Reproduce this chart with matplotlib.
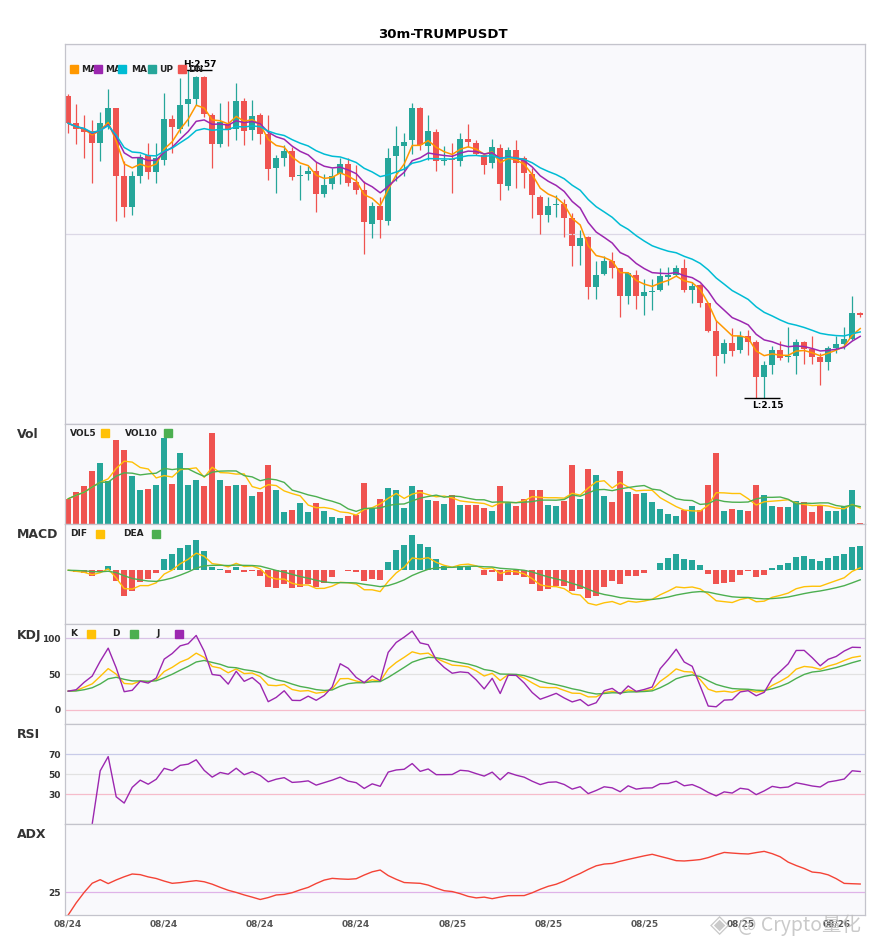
import numpy as np
import pandas as pd
import matplotlib
matplotlib.use("Agg")
import matplotlib.pyplot as plt
from matplotlib.ticker import LinearLocator
from matplotlib.transforms import ScaledTranslation

# 30m candles
symbol = "30m-TRUMPUSDT"
start_time = "2025-08-24 00:00"

open_ = [2.537, 2.502, 2.494, 2.492, 2.477, 2.500, 2.521, 2.435, 2.395, 2.434,
         2.461, 2.440, 2.455, 2.507, 2.495, 2.527, 2.533, 2.561, 2.513, 2.476,
         2.501, 2.494, 2.530, 2.493, 2.512, 2.488, 2.444, 2.458, 2.467, 2.434,
         2.437, 2.441, 2.411, 2.424, 2.437, 2.450, 2.427, 2.417, 2.373, 2.396,
         2.377, 2.460, 2.473, 2.480, 2.521, 2.473, 2.491, 2.453, 2.456, 2.453,
         2.482, 2.477, 2.461, 2.451, 2.470, 2.422, 2.468, 2.457, 2.437, 2.408,
         2.384, 2.397, 2.399, 2.381, 2.344, 2.356, 2.292, 2.309, 2.326, 2.316,
         2.281, 2.307, 2.281, 2.286, 2.288, 2.305, 2.307, 2.316, 2.288, 2.295,
         2.271, 2.235, 2.206, 2.220, 2.211, 2.229, 2.221, 2.177, 2.192, 2.211,
         2.202, 2.204, 2.221, 2.212, 2.202, 2.196, 2.214, 2.219, 2.225, 2.259]
high = [2.539, 2.527, 2.512, 2.506, 2.517, 2.546, 2.522, 2.453, 2.441, 2.463,
        2.477, 2.477, 2.541, 2.512, 2.560, 2.570, 2.563, 2.563, 2.515, 2.528,
        2.530, 2.553, 2.535, 2.532, 2.515, 2.512, 2.461, 2.474, 2.472, 2.448,
        2.447, 2.452, 2.437, 2.444, 2.457, 2.458, 2.448, 2.428, 2.401, 2.407,
        2.470, 2.498, 2.489, 2.528, 2.523, 2.512, 2.495, 2.473, 2.477, 2.490,
        2.501, 2.480, 2.463, 2.482, 2.476, 2.472, 2.481, 2.460, 2.444, 2.410,
        2.407, 2.410, 2.405, 2.387, 2.365, 2.358, 2.325, 2.332, 2.337, 2.317,
        2.311, 2.314, 2.302, 2.302, 2.317, 2.318, 2.320, 2.328, 2.298, 2.296,
        2.272, 2.250, 2.225, 2.240, 2.236, 2.237, 2.224, 2.197, 2.216, 2.223,
        2.241, 2.225, 2.223, 2.229, 2.208, 2.216, 2.229, 2.241, 2.280, 2.260]
low = [2.489, 2.476, 2.458, 2.425, 2.453, 2.495, 2.377, 2.382, 2.385, 2.425,
       2.430, 2.425, 2.449, 2.464, 2.489, 2.498, 2.525, 2.510, 2.445, 2.472,
       2.473, 2.481, 2.474, 2.480, 2.476, 2.429, 2.413, 2.447, 2.429, 2.404,
       2.429, 2.388, 2.407, 2.418, 2.424, 2.422, 2.411, 2.334, 2.355, 2.355,
       2.372, 2.428, 2.435, 2.462, 2.468, 2.455, 2.441, 2.449, 2.413, 2.447,
       2.472, 2.461, 2.437, 2.444, 2.404, 2.416, 2.419, 2.419, 2.381, 2.360,
       2.375, 2.382, 2.356, 2.319, 2.320, 2.277, 2.277, 2.307, 2.304, 2.254,
       2.270, 2.264, 2.256, 2.263, 2.287, 2.294, 2.306, 2.286, 2.271, 2.266,
       2.234, 2.178, 2.194, 2.204, 2.208, 2.205, 2.150, 2.150, 2.181, 2.198,
       2.196, 2.181, 2.193, 2.193, 2.167, 2.186, 2.208, 2.212, 2.224, 2.253]
close = [2.502, 2.494, 2.491, 2.477, 2.502, 2.521, 2.435, 2.395, 2.435, 2.459,
         2.439, 2.457, 2.507, 2.497, 2.526, 2.533, 2.561, 2.514, 2.476, 2.503,
         2.493, 2.530, 2.492, 2.511, 2.488, 2.443, 2.458, 2.467, 2.433, 2.436,
         2.441, 2.411, 2.423, 2.435, 2.450, 2.426, 2.416, 2.375, 2.396, 2.378,
         2.458, 2.473, 2.478, 2.521, 2.474, 2.492, 2.454, 2.454, 2.455, 2.482,
         2.478, 2.463, 2.449, 2.471, 2.424, 2.468, 2.451, 2.438, 2.410, 2.384,
         2.396, 2.398, 2.380, 2.344, 2.355, 2.292, 2.307, 2.325, 2.316, 2.281,
         2.310, 2.281, 2.286, 2.287, 2.306, 2.307, 2.317, 2.288, 2.293, 2.271,
         2.236, 2.204, 2.220, 2.210, 2.229, 2.221, 2.177, 2.192, 2.211, 2.201,
         2.204, 2.221, 2.212, 2.202, 2.196, 2.214, 2.219, 2.225, 2.259, 2.256]
# volume in thousands
volume = [75, 96, 112, 156, 180, 127, 250, 220, 142, 100,
          105, 117, 255, 120, 210, 117, 132, 114, 270, 130,
          112, 115, 117, 82, 96, 174, 102, 37, 42, 63,
          37, 63, 40, 22, 18, 25, 28, 123, 48, 75,
          108, 100, 49, 112, 102, 72, 69, 60, 85, 57,
          57, 57, 48, 39, 114, 62, 54, 75, 102, 102,
          57, 54, 69, 174, 75, 162, 147, 84, 66, 156,
          96, 90, 93, 66, 45, 30, 24, 42, 54, 42,
          117, 210, 39, 45, 42, 39, 117, 87, 54, 51,
          51, 69, 66, 36, 57, 39, 39, 54, 102, 3]

ma_spans = [5, 10, 20]
ma_labels = ["MA", "MA", "MA"]
macd_fast, macd_slow, macd_signal = 5, 20, 9

UP, DN = "#26a69a", "#ef5350"
MA_COLORS = ["#ff9800", "#9c27b0", "#00bcd4"]
YEL, GRN, PUR, RED = "#ffc107", "#4caf50", "#9c27b0", "#f44336"
FACE, SPINE = "#f9f9fc", "#c4c4cc"

df = pd.DataFrame({"open": open_, "high": high, "low": low,
                   "close": close, "vol": volume},
                  index=pd.date_range(start_time, periods=len(close), freq="30min"))
x = np.arange(len(df))
o, h, l, c = df["open"].values, df["high"].values, df["low"].values, df["close"].values
colors = np.where(c >= o, UP, DN)

# indicators
mas = [df["close"].ewm(span=s).mean() for s in ma_spans]
vol5 = df["vol"].rolling(5, min_periods=1).mean()
vol10 = df["vol"].rolling(10, min_periods=1).mean()

dif = (df["close"].ewm(span=macd_fast, adjust=False).mean()
       - df["close"].ewm(span=macd_slow, adjust=False).mean())
dea = dif.ewm(span=macd_signal, adjust=False).mean()
hist = 2 * (dif - dea)

low9 = df["low"].rolling(9, min_periods=1).min()
high9 = df["high"].rolling(9, min_periods=1).max()
rsv = (df["close"] - low9) / (high9 - low9) * 100
k = rsv.ewm(com=2, adjust=False).mean()
d = k.ewm(com=2, adjust=False).mean()
j = 3 * k - 2 * d

chg = df["close"].diff()
gain = chg.clip(lower=0).ewm(com=13, min_periods=3).mean()
loss = (-chg.clip(upper=0)).ewm(com=13, min_periods=3).mean()
rsi = 100 * gain / (gain + loss)

up_move = df["high"].diff()
down_move = -df["low"].diff()
plus_dm = pd.Series(np.where((up_move > down_move) & (up_move > 0), up_move, 0.0), index=df.index)
minus_dm = pd.Series(np.where((down_move > up_move) & (down_move > 0), down_move, 0.0), index=df.index)
prev_c = df["close"].shift()
tr = pd.concat([df["high"] - df["low"], (df["high"] - prev_c).abs(),
                (df["low"] - prev_c).abs()], axis=1).max(axis=1)
atr = tr.ewm(span=14, adjust=False).mean()
pdi = 100 * plus_dm.ewm(span=14, adjust=False).mean() / atr
mdi = 100 * minus_dm.ewm(span=14, adjust=False).mean() / atr
dx = (100 * (pdi - mdi).abs() / (pdi + mdi)).fillna(0)
adx = dx.ewm(span=14, adjust=False).mean()

# layout in pixels of an 885x950 canvas
fig = plt.figure(figsize=(8.85, 9.5), dpi=100)


def box(top, bottom):
    return [65 / 885, 1 - bottom / 950, 800 / 885, (bottom - top) / 950]


ax_p = fig.add_axes(box(44, 424))
ax_v = fig.add_axes(box(424, 524), sharex=ax_p)
ax_m = fig.add_axes(box(524, 624), sharex=ax_p)
ax_k = fig.add_axes(box(624, 724), sharex=ax_p)
ax_r = fig.add_axes(box(724, 824), sharex=ax_p)
ax_a = fig.add_axes(box(824, 915), sharex=ax_p)
axes = [ax_p, ax_v, ax_m, ax_k, ax_r, ax_a]

for ax in axes:
    ax.set_facecolor(FACE)
    for s in ax.spines.values():
        s.set_color(SPINE)
        s.set_linewidth(0.9)
    ax.tick_params(length=0, pad=3, labelbottom=False, labelleft=False)


def offset(ax, dx, dy):
    return ax.transAxes + ScaledTranslation(dx / 100, -dy / 100, fig.dpi_scale_trans)


def legend_row(ax, items, dy):
    # items: (label, color, text_dx, box_dx)
    for lab, col, tdx, bdx in items:
        ax.text(0, 1, lab, transform=offset(ax, tdx, dy), ha="left", va="center",
                fontsize=6.5, fontweight="bold", color="#222222", zorder=5)
        ax.plot([0], [1], marker="s", ms=5.8, color=col, linestyle="none",
                transform=offset(ax, bdx, dy), clip_on=False, zorder=6)


# price panel
ax_p.vlines(x, l, h, colors=colors, lw=0.9)
ax_p.bar(x, np.maximum(np.abs(c - o), 0.0015), bottom=np.minimum(o, c),
         width=0.75, color=colors)
for ma, col in zip(mas, MA_COLORS):
    ax_p.plot(x, ma, color=col, lw=1.1)
rng = h.max() - l.min()
ax_p.set_ylim(l.min() - 0.08 * rng, h.max() + 0.08 * rng)
ax_p.yaxis.set_major_locator(LinearLocator(3))
ax_p.grid(axis="y", color="#dcd8e6", lw=0.9)

hi_i, lo_i = int(np.argmax(h)), int(np.argmin(l))
ax_p.hlines(h[hi_i], hi_i - 0.4, hi_i + 3, color="black", lw=1)
ax_p.annotate(f"H:{h[hi_i]:.2f}", (hi_i + 1.5, h[hi_i]), xytext=(0, 1),
              textcoords="offset points", ha="center", va="bottom",
              fontsize=6.5, fontweight="bold")
ax_p.hlines(l[lo_i], lo_i - 1.5, lo_i + 3, color="black", lw=1)
ax_p.annotate(f"L:{l[lo_i]:.2f}", (lo_i + 1.4, l[lo_i]), xytext=(0, -2),
              textcoords="offset points", ha="center", va="top",
              fontsize=6.5, fontweight="bold")

legend_row(ax_p, [(ma_labels[0], MA_COLORS[0], 15.7, 8.7),
                  (ma_labels[1], MA_COLORS[1], 40, 32.8),
                  (ma_labels[2], MA_COLORS[2], 66, 56.8),
                  ("UP", UP, 94, 87),
                  ("DN", DN, 122.7, 117)], 25)

# volume
ax_v.bar(x, df["vol"], width=0.8, color=colors)
ax_v.plot(x, vol5, color=YEL, lw=1)
ax_v.plot(x, vol10, color=GRN, lw=1)
ax_v.set_ylim(0, df["vol"].max() * 1.1)
legend_row(ax_v, [("VOL5", YEL, 5.3, 40), ("VOL10", GRN, 60.3, 102.5)], 9)

# MACD
ax_m.bar(x, hist, width=0.7, color=np.where(hist >= 0, UP, DN))
ax_m.plot(x, dif, color=YEL, lw=1)
ax_m.plot(x, dea, color=GRN, lw=1)
lo_m = min(dif.min(), dea.min(), hist.min(), 0)
hi_m = max(dif.max(), dea.max(), hist.max(), 0)
span_m = hi_m - lo_m
ax_m.set_ylim(lo_m - 0.27 * span_m, hi_m + 0.16 * span_m)
legend_row(ax_m, [("DIF", YEL, 5, 35), ("DEA", GRN, 58, 91)], 10)

# KDJ
for lvl, col in [(100, "#d9c2e6"), (50, "#e2e2e2"), (0, "#f6bccb")]:
    ax_k.axhline(lvl, color=col, lw=0.9)
ax_k.plot(x, k, color=YEL, lw=1)
ax_k.plot(x, d, color=GRN, lw=1)
ax_k.plot(x, j, color=PUR, lw=1)
ax_k.set_ylim(-20, 120)
ax_k.set_yticks([0, 50, 100], labels=["0", "50", "100"], fontsize=6.5,
                fontweight="bold", color="#333333")
ax_k.tick_params(labelleft=True)
legend_row(ax_k, [("K", YEL, 5, 26), ("D", GRN, 47, 69), ("J", PUR, 91, 114)], 10)

# RSI
for lvl, col in [(70, "#c9cbe9"), (50, "#e2e2e2"), (30, "#f6bccb")]:
    ax_r.axhline(lvl, color=col, lw=0.9)
ax_r.plot(x, rsi, color=PUR, lw=1)
ax_r.set_ylim(0, 100)
ax_r.set_yticks([30, 50, 70], labels=["30", "50", "70"], fontsize=6.5,
                fontweight="bold", color="#333333")
ax_r.tick_params(labelleft=True)

# ADX
ax_a.axhline(25, color="#dfb3e8", lw=0.9)
ax_a.plot(x, adx, color=RED, lw=1)
ax_a.set_ylim(0, 100)
ax_a.set_yticks([25], labels=["25"], fontsize=6.5, fontweight="bold", color="#333333")
ax_a.tick_params(labelleft=True)

ax_a.set_xticks(x[::12], labels=[t.strftime("%m/%d") for t in df.index[::12]],
                fontsize=6.5, fontweight="bold", color="#555555")
ax_a.tick_params(labelbottom=True)
ax_p.set_xlim(-0.4, len(df) - 0.4)

# panel names and title
for name, ypx in [("Vol", 435), ("MACD", 535), ("KDJ", 636), ("RSI", 735), ("ADX", 835)]:
    fig.text(17 / 885, 1 - ypx / 950, name, ha="left", va="center",
             fontsize=9, fontweight="bold", color="#333333")
fig.text(0.5, 1 - 34 / 950, symbol, ha="center", va="center",
         fontsize=9.5, fontweight="bold")

# watermark
fig.text(720 / 885, 1 - 925 / 950, "\u25c8", ha="center", va="center",
         fontsize=18, color="#bdbdbd", alpha=0.8)
fig.text(738 / 885, 1 - 925 / 950, "@ Crypto量化", ha="left", va="center",
         fontsize=14, color="#bdbdbd", alpha=0.8,
         family=["Noto Sans CJK SC", "DejaVu Sans"])

fig.savefig("out.png", dpi=100)
